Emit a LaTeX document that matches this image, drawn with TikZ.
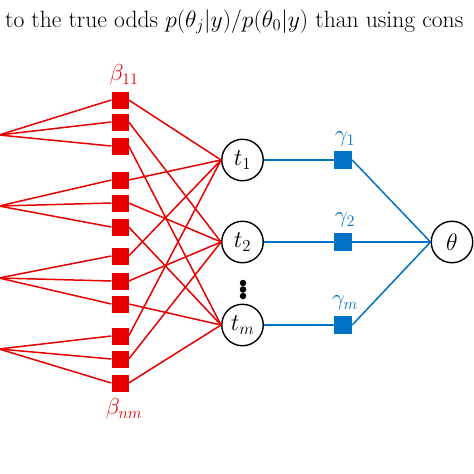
\RequirePackage{fix-cm}
\documentclass[tikz,border=0pt]{standalone}
\usepackage{fontspec}
\definecolor{myred}{RGB}{232,0,0}
\definecolor{myblue}{RGB}{0,114,198}
\begin{document}
\begin{tikzpicture}[x=1pt,y=-1pt,
  rsq/.style={fill=myred, minimum size=17pt, inner sep=0pt},
  bsq/.style={fill=myblue, minimum size=18pt, inner sep=0pt},
  var/.style={circle, draw=black, line width=1.4pt, minimum size=41.5pt, inner sep=0pt, font=\fontsize{24}{28}\selectfont},
  rl/.style={myred, line width=1.5pt},
  bl/.style={myblue, line width=1.5pt},
  dotn/.style={circle, fill=black, minimum size=6.5pt, inner sep=0pt},
  lab/.style={inner sep=0pt, font=\fontsize{23}{26}\selectfont}]
\useasboundingbox (0,0) rectangle (474,474);
\fill[white] (0,0) rectangle (474,474);
\node[anchor=base west, inner sep=0pt, font=\fontsize{23.6}{27}\selectfont] (cap) at (5,27) {to the true odds $p(\theta_j|y)/p(\theta_0|y)$ than using cons};
% fan points
\coordinate (f1) at (-1,135);
\coordinate (f2) at (-1,206);
\coordinate (f3) at (-1,278);
\coordinate (f4) at (-1,349);
% red squares
\foreach \i/\y in {1/100,2/122,3/146,4/180,5/203,6/227,7/256,8/281,9/304,10/336,11/359,12/383}
  \node[rsq] (r\i) at (120,\y) {};
% circles
\node[var] (t1) at (242.5,160) {$t_1$};
\node[var] (t2) at (242.5,242) {$t_2$};
\node[var] (t3) at (242.5,325) {$t_m$};
\node[var] (th) at (452,242) {$\theta$};
\node[dotn] (d1) at (243,283) {};
\node[dotn] (d2) at (243,289.5) {};
\node[dotn] (d3) at (243,296) {};
% blue squares
\node[bsq] (g1) at (343,160) {};
\node[bsq] (g2) at (343,242) {};
\node[bsq] (g3) at (343,325) {};
% labels
\node[lab, text=myred] (lb1) at (124,75) {$\beta_{11}$};
\node[lab, text=myred] (lb2) at (124,409) {$\beta_{nm}$};
\node[lab, text=myblue] (lg1) at (345,139) {$\gamma_1$};
\node[lab, text=myblue] (lg2) at (345,220) {$\gamma_2$};
\node[lab, text=myblue] (lg3) at (345,303) {$\gamma_m$};
% left fans
\foreach \g in {1,2,3,4}{
  \pgfmathtruncatemacro{\a}{3*\g-2}
  \pgfmathtruncatemacro{\b}{3*\g-1}
  \pgfmathtruncatemacro{\c}{3*\g}
  \draw[rl] (f\g) -- (r\a.west);
  \draw[rl] (f\g) -- (r\b.west);
  \draw[rl] (f\g) -- (r\c.west);
  \draw[rl] (r\a.east) -- (t1.west);
  \draw[rl] (r\b.east) -- (t2.west);
  \draw[rl] (r\c.east) -- (t3.west);
}
% blue connectors
\draw[bl] (t1.east) -- (g1.west);
\draw[bl] (t2.east) -- (g2.west);
\draw[bl] (t3.east) -- (g3.west);
\draw[bl] (g1.east) -- (th.west);
\draw[bl] (g2.east) -- (th.west);
\draw[bl] (g3.east) -- (th.west);
\end{tikzpicture}
\end{document}
